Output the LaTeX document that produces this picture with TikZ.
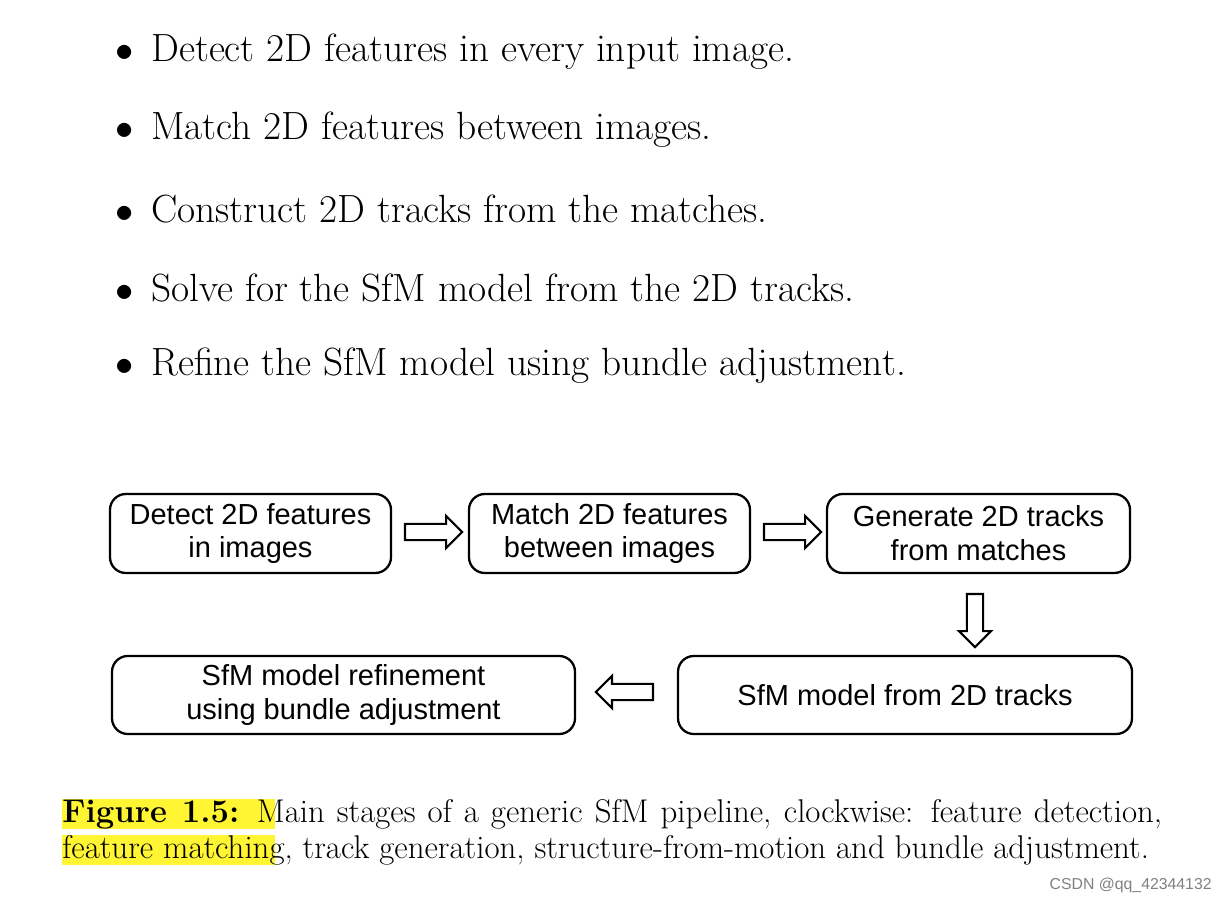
\documentclass[tikz,border=0pt]{standalone}
\usepackage{fontspec}
\newfontfamily\sansf{Liberation Sans}
\usetikzlibrary{shapes.arrows}
\begin{document}
\begin{tikzpicture}[x=0.02cm,y=-0.02cm,
  bul/.style={anchor=west,inner sep=0,font=\fontsize{22.4}{26}\selectfont},
  box/.style={draw,line width=1.3pt,rounded corners=9pt,align=center,font=\sansf\fontsize{16.5}{19.3pt}\selectfont,inner sep=0},
  arr/.style={draw,line width=1.2pt,single arrow,single arrow head extend=4.5pt,single arrow head indent=0pt,minimum width=17pt,inner sep=4pt,minimum height=#1}]
\useasboundingbox (0,0) rectangle (1227,902);
\foreach \y/\t [count=\i] in {52/Detect 2D features in every input image.,130/Match 2D features between images.,209/Construct 2D tracks from the matches.,288/Solve for the SfM model from the 2D tracks.,366/Refine the SfM model using bundle adjustment.}{
  \node[bul] (b\i) at (115,\y) {$\bullet$\hspace{0.45em}\t};
}
\node[box,minimum width=281*0.02cm,minimum height=79*0.02cm] (n1) at (250.5,533.5) {Detect 2D features\\in images};
\node[box,minimum width=281*0.02cm,minimum height=79*0.02cm] (n2) at (609.5,533.5) {Match 2D features\\between images};
\node[box,minimum width=303*0.02cm,minimum height=79*0.02cm] (n3) at (978.5,533.5) {Generate 2D tracks\\from matches};
\node[box,minimum width=454*0.02cm,minimum height=78*0.02cm] (n4) at (905,695) {SfM model from 2D tracks};
\node[box,minimum width=463*0.02cm,minimum height=78*0.02cm] (n5) at (343.5,695) {SfM model refinement\\using bundle adjustment};
\node[arr=57*0.02cm] (a1) at (429.5,532) {};
\node[arr=57*0.02cm] (a2) at (788.5,532) {};
\node[arr=53*0.02cm,rotate=-90] (a3) at (975,616.5) {};
\node[arr=57*0.02cm,rotate=180] (a4) at (628.5,692) {};
\fill[yellow!80] (62,799) rectangle (275,829);
\fill[yellow!80] (62,835) rectangle (275,865);
\node[anchor=north west,text width=22cm,align=justify,inner sep=0,font=\fontsize{18.7}{20.4pt}\selectfont] (cap) at (62,799)
 {\textbf{Figure 1.5:} Main stages of a generic SfM pipeline, clockwise: feature detection,\linebreak feature matching, track generation, structure-from-motion and bundle adjustment.};
\node[anchor=east,inner sep=0,text=gray,font=\sansf\fontsize{9}{10}\selectfont] (wm) at (1212,885) {CSDN @qq\_42344132};
\end{tikzpicture}
\end{document}
